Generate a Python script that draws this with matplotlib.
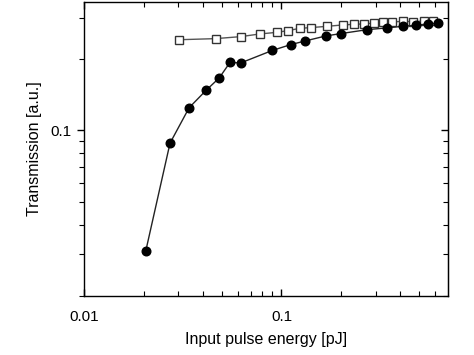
import matplotlib
matplotlib.use('Agg')
import matplotlib.pyplot as plt
from matplotlib.ticker import LogLocator, NullFormatter

plt.rcParams['font.family'] = ['Liberation Sans', 'DejaVu Sans']

# filled circles
energy_filled = [0.0205, 0.0272, 0.0340, 0.0414, 0.0483, 0.0548, 0.0621, 0.0898,
                 0.1113, 0.1316, 0.1676, 0.2005, 0.2728, 0.342, 0.412, 0.482, 0.552, 0.621]
trans_filled = [0.031, 0.0884, 0.1248, 0.1477, 0.1667, 0.194, 0.193, 0.218,
                0.2307, 0.239, 0.251, 0.257, 0.267, 0.2715, 0.2758, 0.2786, 0.2822, 0.284]

# open squares
energy_open = [0.0303, 0.0463, 0.0621, 0.0778, 0.0945, 0.1083, 0.124, 0.1407, 0.1708,
               0.204, 0.2334, 0.263, 0.296, 0.3286, 0.3625, 0.415, 0.467, 0.529, 0.590]
trans_open = [0.242, 0.2446, 0.2494, 0.256, 0.260, 0.2645, 0.2705, 0.2723, 0.2758,
              0.2794, 0.2812, 0.2823, 0.285, 0.2862, 0.2877, 0.2896, 0.2885, 0.2906, 0.2906]

xticks = [0.01, 0.1]
xticklabels = ['0.01', '0.1']
yticks = [0.1]
yticklabels = ['0.1']

fig = plt.figure(figsize=(4.74, 3.55), dpi=100)
ax = fig.add_axes([0.178, 0.167, 0.7665, 0.827])

ax.plot(energy_open, trans_open, '-s', color='#555555', lw=1.0, ms=5.8,
        mfc='white', mec='#333333', mew=1.0)
ax.plot(energy_filled, trans_filled, '-o', color='#222222', lw=1.0, ms=6.2,
        mfc='black', mec='black')

ax.set_xscale('log')
ax.set_yscale('log')
ax.set_xlim(0.01, 0.697)
ax.set_ylim(0.02, 0.349)

ax.set_xticks(xticks)
ax.set_xticklabels(xticklabels)
ax.set_yticks(yticks)
ax.set_yticklabels(yticklabels)
for a in (ax.xaxis, ax.yaxis):
    a.set_minor_locator(LogLocator(base=10, subs=range(2, 10)))
    a.set_minor_formatter(NullFormatter())

ax.tick_params(axis='x', which='both', direction='in', top=True, pad=10, labelsize=11)
ax.tick_params(axis='y', which='both', direction='out', right=False, pad=4, labelsize=11)
ax.tick_params(which='major', length=5, width=1)
ax.tick_params(which='minor', length=3.5, width=0.8)
# right side ticks point inward
ax2 = ax.secondary_yaxis('right')
ax2.set_yticks(yticks)
ax2.yaxis.set_minor_locator(LogLocator(base=10, subs=range(2, 10)))
ax2.yaxis.set_minor_formatter(NullFormatter())
ax2.tick_params(which='both', direction='in', labelright=False)
ax2.tick_params(which='major', length=5, width=1)
ax2.tick_params(which='minor', length=3.5, width=0.8)

for s in ax.spines.values():
    s.set_linewidth(1.0)

ax.set_xlabel('Input pulse energy [pJ]', fontsize=11.5, labelpad=6)
ax.set_ylabel('Transmission [a.u.]', fontsize=11.5, labelpad=6)

plt.savefig('out.png', dpi=100)
